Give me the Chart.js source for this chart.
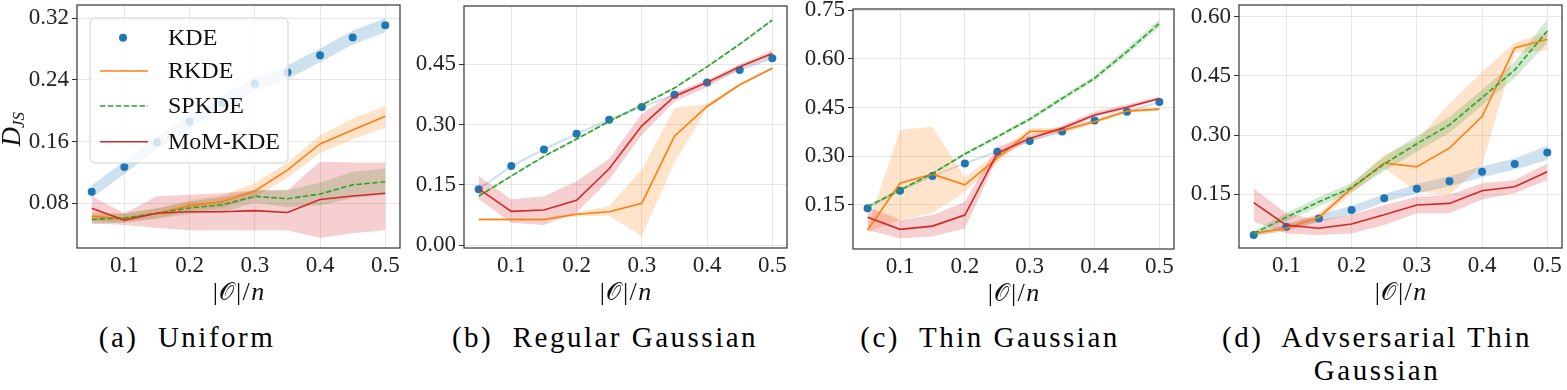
<!DOCTYPE html>
<html><head><meta charset="utf-8">
<script src="https://cdn.jsdelivr.net/npm/chart.js@4.4.1/dist/chart.umd.min.js"></script>
<style>
html,body{margin:0;padding:0;background:#fff;overflow:hidden;width:1567px;height:390px;position:relative;}
.panel{position:absolute;}
.cap{position:absolute;width:600px;text-align:center;font-family:'Liberation Serif','Times New Roman',Times,serif;font-size:29px;line-height:33px;letter-spacing:2.5px;white-space:pre;color:#000;}
</style></head><body>
<div class="panel" id="pA"><canvas id="cA"></canvas></div>
<div class="panel" id="pB"><canvas id="cB"></canvas></div>
<div class="panel" id="pC"><canvas id="cC"></canvas></div>
<div class="panel" id="pD"><canvas id="cD"></canvas></div>
<div class="cap" style="left:-113px;top:321px">(a)  Uniform</div>
<div class="cap" style="left:305px;top:321px">(b)  Regular Gaussian</div>
<div class="cap" style="left:690px;top:321px">(c)  Thin Gaussian</div>
<div class="cap" style="left:1077px;top:321px">(d)  Advsersarial Thin<br>Gaussian</div>
<script>
// ---------------- data ----------------
const xValues = [0.05, 0.10, 0.15, 0.20, 0.25, 0.30, 0.35, 0.40, 0.45, 0.50];
const xTicks = [0.1, 0.2, 0.3, 0.4, 0.5];
const xTickLabels = ['0.1', '0.2', '0.3', '0.4', '0.5'];
const seriesNames = ['KDE', 'RKDE', 'SPKDE', 'MoM-KDE'];

const yTicksA = [0.08, 0.16, 0.24, 0.32];
const yTickLabelsA = ['0.08', '0.16', '0.24', '0.32'];
const yTicksB = [0.00, 0.15, 0.30, 0.45];
const yTickLabelsB = ['0.00', '0.15', '0.30', '0.45'];
const yTicksC = [0.15, 0.30, 0.45, 0.60, 0.75];
const yTickLabelsC = ['0.15', '0.30', '0.45', '0.60', '0.75'];
const yTicksD = [0.15, 0.30, 0.45, 0.60];
const yTickLabelsD = ['0.15', '0.30', '0.45', '0.60'];

// (a) Uniform
const kdeA    = [0.095, 0.127, 0.159, 0.186, 0.210, 0.235, 0.250, 0.272, 0.295, 0.311];
const kdeALo  = [0.087, 0.118, 0.150, 0.177, 0.201, 0.226, 0.241, 0.263, 0.286, 0.302];
const kdeAHi  = [0.103, 0.135, 0.167, 0.195, 0.219, 0.244, 0.259, 0.281, 0.304, 0.320];
const rkdeA   = [0.063, 0.060, 0.067, 0.077, 0.082, 0.096, 0.123, 0.157, 0.175, 0.193];
const rkdeALo = [0.057, 0.055, 0.061, 0.070, 0.074, 0.088, 0.113, 0.145, 0.163, 0.178];
const rkdeAHi = [0.069, 0.066, 0.073, 0.084, 0.090, 0.106, 0.133, 0.168, 0.190, 0.207];
const spkdeA   = [0.059, 0.061, 0.067, 0.074, 0.078, 0.089, 0.086, 0.092, 0.104, 0.108];
const spkdeALo = [0.053, 0.055, 0.060, 0.066, 0.068, 0.081, 0.075, 0.077, 0.087, 0.091];
const spkdeAHi = [0.065, 0.067, 0.074, 0.082, 0.088, 0.097, 0.097, 0.107, 0.121, 0.125];
const momA    = [0.0735, 0.058, 0.067, 0.069, 0.069, 0.0705, 0.068, 0.085, 0.0895, 0.093];
const momALo  = [0.054, 0.052, 0.048, 0.045, 0.045, 0.045, 0.045, 0.035, 0.041, 0.045];
const momAHi  = [0.089, 0.067, 0.089, 0.091, 0.093, 0.097, 0.097, 0.134, 0.133, 0.133];

// (b) Regular Gaussian
const kdeB    = [0.139, 0.197, 0.238, 0.277, 0.312, 0.344, 0.374, 0.405, 0.436, 0.465];
const kdeBLo  = [0.136, 0.194, 0.235, 0.274, 0.309, 0.341, 0.371, 0.402, 0.433, 0.462];
const kdeBHi  = [0.142, 0.200, 0.241, 0.280, 0.315, 0.347, 0.377, 0.408, 0.439, 0.468];
const rkdeB   = [0.064, 0.064, 0.064, 0.077, 0.083, 0.104, 0.271, 0.345, 0.399, 0.440];
const rkdeBLo = [0.061, 0.061, 0.061, 0.072, 0.073, 0.022, 0.205, 0.341, 0.396, 0.437];
const rkdeBHi = [0.067, 0.067, 0.067, 0.082, 0.097, 0.188, 0.341, 0.352, 0.402, 0.443];
const spkdeB   = [0.122, 0.172, 0.221, 0.264, 0.308, 0.349, 0.391, 0.444, 0.500, 0.560];
const spkdeBLo = [0.119, 0.169, 0.218, 0.261, 0.305, 0.346, 0.388, 0.441, 0.497, 0.556];
const spkdeBHi = [0.125, 0.175, 0.224, 0.267, 0.311, 0.352, 0.394, 0.447, 0.503, 0.564];
const momB    = [0.140, 0.084, 0.0875, 0.1115, 0.190, 0.297, 0.370, 0.405, 0.444, 0.477];
const momBLo  = [0.114, 0.056, 0.050, 0.081, 0.163, 0.275, 0.357, 0.393, 0.438, 0.467];
const momBHi  = [0.172, 0.114, 0.122, 0.159, 0.215, 0.327, 0.380, 0.411, 0.450, 0.485];

// (c) Thin Gaussian
const kdeC    = [0.140, 0.194, 0.239, 0.278, 0.314, 0.347, 0.376, 0.410, 0.437, 0.467];
const kdeCLo  = [0.137, 0.191, 0.236, 0.275, 0.311, 0.344, 0.373, 0.407, 0.434, 0.464];
const kdeCHi  = [0.143, 0.197, 0.242, 0.281, 0.317, 0.350, 0.379, 0.413, 0.440, 0.470];
const rkdeC   = [0.073, 0.217, 0.245, 0.212, 0.294, 0.376, 0.379, 0.406, 0.439, 0.445];
const rkdeCLo = [0.065, 0.105, 0.125, 0.190, 0.280, 0.366, 0.370, 0.400, 0.434, 0.440];
const rkdeCHi = [0.085, 0.381, 0.391, 0.235, 0.310, 0.386, 0.386, 0.412, 0.445, 0.450];
const spkdeC   = [0.145, 0.196, 0.247, 0.307, 0.360, 0.414, 0.478, 0.540, 0.622, 0.709];
const spkdeCLo = [0.141, 0.192, 0.243, 0.302, 0.355, 0.408, 0.471, 0.532, 0.612, 0.697];
const spkdeCHi = [0.149, 0.200, 0.251, 0.312, 0.365, 0.420, 0.485, 0.548, 0.632, 0.721];
const momC    = [0.112, 0.075, 0.085, 0.119, 0.309, 0.355, 0.386, 0.427, 0.451, 0.478];
const momCLo  = [0.073, 0.047, 0.053, 0.078, 0.294, 0.347, 0.378, 0.420, 0.445, 0.473];
const momCHi  = [0.145, 0.104, 0.119, 0.160, 0.329, 0.365, 0.395, 0.437, 0.460, 0.484];

// (d) Adversarial Thin Gaussian
const kdeD    = [0.047, 0.068, 0.089, 0.110, 0.140, 0.164, 0.183, 0.207, 0.227, 0.256];
const kdeDLo  = [0.042, 0.061, 0.080, 0.099, 0.130, 0.152, 0.170, 0.193, 0.213, 0.237];
const kdeDHi  = [0.052, 0.075, 0.098, 0.121, 0.150, 0.176, 0.196, 0.221, 0.241, 0.273];
const rkdeD   = [0.051, 0.064, 0.092, 0.165, 0.229, 0.220, 0.267, 0.347, 0.521, 0.543];
const rkdeDLo = [0.047, 0.056, 0.082, 0.153, 0.216, 0.157, 0.148, 0.224, 0.508, 0.515];
const rkdeDHi = [0.055, 0.072, 0.102, 0.177, 0.250, 0.288, 0.380, 0.460, 0.534, 0.562];
const spkdeD   = [0.051, 0.092, 0.131, 0.167, 0.227, 0.278, 0.326, 0.395, 0.465, 0.564];
const spkdeDLo = [0.045, 0.082, 0.119, 0.155, 0.209, 0.258, 0.306, 0.375, 0.445, 0.534];
const spkdeDHi = [0.057, 0.102, 0.143, 0.179, 0.245, 0.298, 0.346, 0.415, 0.485, 0.594];
const momD    = [0.129, 0.072, 0.064, 0.075, 0.098, 0.123, 0.127, 0.159, 0.169, 0.207];
const momDLo  = [0.081, 0.051, 0.047, 0.051, 0.072, 0.102, 0.102, 0.137, 0.153, 0.186];
const momDHi  = [0.165, 0.102, 0.085, 0.098, 0.123, 0.144, 0.148, 0.178, 0.186, 0.228];

// ---------------- style / layout ----------------
const FONT = "'Liberation Serif', 'Times New Roman', Times, serif";
const MATHFONT = "'DejaVu Sans', 'Noto Sans CJK SC', sans-serif";
const COLORS = ['#1f77b4', '#ff7f0e', '#2ca02c', '#d62728'];
const OFF = 20, XH = 72, PR = 10;

const panels = [
  {id: 'A', L: 77, R: 400, T: 5, B: 248, YW: 77, yMin: 0.022, yMax: 0.3373, yTicks: yTicksA, yLabels: yTickLabelsA,
   s: [[kdeA, kdeALo, kdeAHi], [rkdeA, rkdeALo, rkdeAHi], [spkdeA, spkdeALo, spkdeAHi], [momA, momALo, momAHi]], legend: true},
  {id: 'B', L: 464, R: 787, T: 6, B: 248, YW: 70, yMin: -0.007, yMax: 0.595, yTicks: yTicksB, yLabels: yTickLabelsB,
   s: [[kdeB, kdeBLo, kdeBHi], [rkdeB, rkdeBLo, rkdeBHi], [spkdeB, spkdeBLo, spkdeBHi], [momB, momBLo, momBHi]]},
  {id: 'C', L: 853, R: 1174, T: 9, B: 249, YW: 70, yMin: 0.0146, yMax: 0.7531, yTicks: yTicksC, yLabels: yTickLabelsC,
   s: [[kdeC, kdeCLo, kdeCHi], [rkdeC, rkdeCLo, rkdeCHi], [spkdeC, spkdeCLo, spkdeCHi], [momC, momCLo, momCHi]]},
  {id: 'D', L: 1239, R: 1562, T: 5, B: 248, YW: 70, yMin: 0.014, yMax: 0.6297, yTicks: yTicksD, yLabels: yTickLabelsD,
   s: [[kdeD, kdeDLo, kdeDHi], [rkdeD, rkdeDLo, rkdeDHi], [spkdeD, spkdeDLo, spkdeDHi], [momD, momDLo, momDHi]]}
];

function pts(arr) { return xValues.map((x, i) => ({x: x, y: arr[i]})); }
function rgba(hex, a) {
  const n = parseInt(hex.slice(1), 16);
  return 'rgba(' + (n >> 16 & 255) + ',' + (n >> 8 & 255) + ',' + (n & 255) + ',' + a + ')';
}

function buildDatasets(p) {
  const ds = [];
  p.s.forEach((trip, k) => {
    const col = COLORS[k];
    ds.push({label: seriesNames[k] + ' lo', data: pts(trip[1]), showLine: true, borderWidth: 0, borderColor: 'rgba(0,0,0,0)',
             pointRadius: 0, fill: false, order: 110 - k});
    ds.push({label: seriesNames[k] + ' hi', data: pts(trip[2]), showLine: true, borderWidth: 0, borderColor: 'rgba(0,0,0,0)',
             pointRadius: 0, fill: '-1', backgroundColor: rgba(col, 0.22), order: 110 - k});
  });
  p.s.forEach((trip, k) => {
    const col = COLORS[k];
    if (k === 0) {
      ds.push({label: seriesNames[k], data: pts(trip[0]), showLine: false, pointRadius: 4, pointBackgroundColor: col,
               pointBorderWidth: 0, borderColor: col, fill: false, order: 10 - k});
    } else {
      ds.push({label: seriesNames[k], data: pts(trip[0]), showLine: true, borderColor: col, borderWidth: 1.6,
               borderDash: k === 2 ? [5.5, 2.4] : [], pointRadius: 0, fill: false, tension: 0, order: 10 - k});
    }
  });
  return ds;
}

function drawPieces(ctx, pieces, cx, baseline, gap) {
  let total = 0;
  pieces.forEach(pc => { ctx.font = pc[1]; pc.w = ctx.measureText(pc[0]).width; total += pc.w; });
  total += gap * (pieces.length - 1);
  let x = cx - total / 2;
  ctx.textBaseline = 'alphabetic';
  ctx.textAlign = 'left';
  pieces.forEach(pc => { ctx.font = pc[1]; ctx.fillText(pc[0], x, baseline); x += pc.w + gap; });
}

const extrasPlugin = {
  id: 'extras',
  afterDraw(chart, args, opts) {
    const ctx = chart.ctx, a = chart.chartArea;
    ctx.save();
    ctx.strokeStyle = '#333';
    ctx.lineWidth = 1.2;
    ctx.strokeRect(a.left, a.top, a.right - a.left, a.bottom - a.top);
    ctx.fillStyle = '#111';
    const cx = (a.left + a.right) / 2;
    drawPieces(ctx, [['|', '26px ' + FONT], ['\u{1D4AA}', '24px ' + MATHFONT], ['|', '26px ' + FONT], ['/', '26px ' + FONT], ['n', 'italic 26px ' + FONT]],
               cx, a.bottom + 52, 1.5);
    if (opts.legend) {
      ctx.save();
      ctx.translate(a.left - 57, (a.top + a.bottom) / 2);
      ctx.rotate(-Math.PI / 2);
      ctx.textBaseline = 'alphabetic';
      ctx.textAlign = 'left';
      ctx.font = 'italic 27px ' + FONT;
      const dw = ctx.measureText('D').width;
      ctx.fillText('D', -20, 0);
      ctx.font = 'italic 17px ' + FONT;
      ctx.fillText('JS', -20 + dw - 1, 4);
      ctx.restore();
      const bx = a.left + 13, by = a.top + 13, bw = 198, bh = 145, r = 5;
      ctx.beginPath();
      ctx.moveTo(bx + r, by);
      ctx.arcTo(bx + bw, by, bx + bw, by + bh, r);
      ctx.arcTo(bx + bw, by + bh, bx, by + bh, r);
      ctx.arcTo(bx, by + bh, bx, by, r);
      ctx.arcTo(bx, by, bx + bw, by, r);
      ctx.closePath();
      ctx.fillStyle = 'rgba(255,255,255,0.8)';
      ctx.fill();
      ctx.strokeStyle = '#d0d0d0';
      ctx.lineWidth = 1;
      ctx.stroke();
      const rows = [19.7, 53, 88, 123.7];
      seriesNames.forEach((name, k) => {
        const yy = by + rows[k];
        if (k === 0) {
          ctx.beginPath();
          ctx.arc(bx + 33, yy, 4, 0, Math.PI * 2);
          ctx.fillStyle = COLORS[0];
          ctx.fill();
        } else {
          ctx.beginPath();
          ctx.setLineDash(k === 2 ? [5.5, 2.4] : []);
          ctx.strokeStyle = COLORS[k];
          ctx.lineWidth = 1.6;
          ctx.moveTo(bx + 10, yy);
          ctx.lineTo(bx + 58, yy);
          ctx.stroke();
          ctx.setLineDash([]);
        }
        ctx.fillStyle = '#111';
        ctx.font = '24px ' + FONT;
        ctx.textBaseline = 'middle';
        ctx.textAlign = 'left';
        ctx.fillText(name, bx + 78, yy + 1);
      });
    }
    ctx.restore();
  }
};

panels.forEach(p => {
  const wrap = document.getElementById('p' + p.id);
  const cv = document.getElementById('c' + p.id);
  const W = p.YW + (p.R - p.L) + PR;
  const H = p.B + OFF + XH;
  wrap.style.left = (p.L - p.YW) + 'px';
  wrap.style.top = (-OFF) + 'px';
  cv.width = W; cv.height = H;
  cv.style.width = W + 'px'; cv.style.height = H + 'px';
  new Chart(cv, {
    type: 'line',
    data: {datasets: buildDatasets(p)},
    plugins: [extrasPlugin],
    options: {
      responsive: false,
      animation: false,
      devicePixelRatio: 1,
      layout: {padding: {top: p.T + OFF, right: PR, left: 0, bottom: 0}},
      plugins: {legend: {display: false}, tooltip: {enabled: false}, title: {display: false}, extras: {legend: !!p.legend}, filler: {propagate: false}},
      elements: {line: {tension: 0}},
      scales: {
        x: {
          type: 'linear', min: 0.0275, max: 0.5225,
          afterBuildTicks: s => { s.ticks = xTicks.map(v => ({value: v})); },
          afterFit: s => { s.height = XH; },
          ticks: {callback: (v, i) => xTickLabels[i], font: {family: FONT, size: 23}, color: '#222', padding: 4, maxRotation: 0, autoSkip: false},
          grid: {color: '#e6e6e6', lineWidth: 1, drawTicks: false},
          border: {display: false}
        },
        y: {
          type: 'linear', min: p.yMin, max: p.yMax,
          afterBuildTicks: s => { s.ticks = p.yTicks.map(v => ({value: v})); },
          afterFit: s => { s.width = p.YW; },
          ticks: {callback: (v, i) => p.yLabels[i], font: {family: FONT, size: 23}, color: '#222', padding: 3, autoSkip: false},
          grid: {color: '#e6e6e6', lineWidth: 1, drawTicks: true, tickLength: 5, tickColor: '#333'},
          border: {display: false}
        }
      }
    }
  });
});
</script>
</body></html>
